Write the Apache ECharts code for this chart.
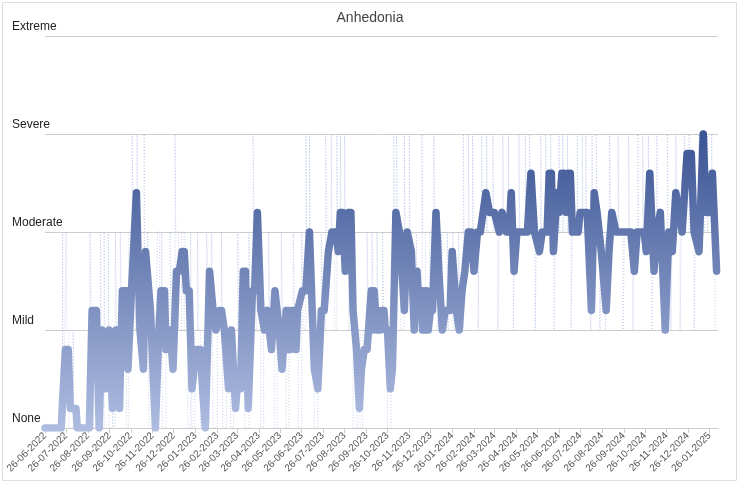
<!DOCTYPE html>
<html>
<head>
<meta charset="utf-8">
<script src="https://cdn.jsdelivr.net/npm/echarts@6/dist/echarts.min.js"></script>
<style>
  html, body { margin: 0; padding: 0; background: #fff; }
  #chart { width: 740px; height: 484px; }
</style>
</head>
<body>
<div id="chart"></div>
<script>
// x positions are days after 26-06-2022 (the first category)
const startDate = '2022-06-26';
const endDate = '2025-02-07';
const levels = ['None', 'Mild', 'Moderate', 'Severe', 'Extreme'];

// thick smoothed line (rows of 10)
const lineDay = [
  0, 23, 26, 29, 33, 36, 44, 46, 63, 67,
  73, 77, 81, 86, 91, 96, 101, 103, 106, 110,
  116, 118, 123, 130, 135, 140, 143, 145, 150, 157,
  162, 165, 167, 170, 172, 174, 178, 182, 187, 191,
  195, 198, 201, 205, 209, 212, 216, 221, 224, 228,
  234, 236, 239, 243, 248, 251, 255, 261, 265, 271,
  275, 278, 282, 285, 289, 295, 298, 302, 307, 312,
  316, 322, 327, 333, 337, 343, 345, 347, 349, 351,
  353, 355, 357, 359, 361, 366, 371, 376, 379, 383,
  388, 393, 397, 403, 408, 414, 417, 420, 423, 427,
  431, 435, 438, 443, 447, 450, 454, 458, 464, 466,
  468, 472, 474, 477, 479, 482, 484, 487, 491, 494,
  499, 504, 506, 511, 515, 521, 525, 529, 532, 535,
  537, 539, 541, 543, 545, 548, 551, 556, 560, 565,
  569, 576, 579, 585, 589, 593, 597, 602, 606, 610,
  615, 619, 623, 627, 632, 639, 646, 650, 656, 660,
  663, 667, 671, 686, 691, 696, 703, 707, 714, 717,
  720, 723, 728, 731, 735, 738, 741, 744, 747, 750,
  758, 761, 771, 777, 781, 785, 788, 791, 798, 802,
  806, 812, 833, 838, 842, 852, 855, 860, 866, 870,
  875, 882, 887, 892, 897, 902, 906, 913, 919, 923,
  930, 936, 940, 944, 949, 955];
const lineValue = [
  0, 0, 0.4, 0.8, 0.8, 0.2, 0.2, 0, 0, 1.2,
  1.2, 0, 1.0, 0.4, 1.0, 0.2, 1.0, 0.6, 0.2, 1.4,
  1.4, 0.6, 1.4, 2.4, 1.0, 0.6, 1.8, 1.8, 1.2, 0,
  1.0, 1.4, 1.0, 1.4, 0.8, 0.8, 1.0, 0.6, 1.6, 1.6,
  1.8, 1.8, 1.4, 1.4, 0.4, 0.6, 0.8, 0.8, 0.4, 0,
  1.6, 1.6, 1.2, 1.0, 1.2, 1.2, 1.0, 0.4, 1.0, 0.2,
  0.6, 0.4, 1.6, 1.6, 0.2, 1.4, 1.4, 2.2, 1.2, 1.0,
  1.2, 0.8, 1.4, 1.0, 0.6, 1.2, 0.8, 1.2, 0.8, 1.2,
  1.0, 1.2, 0.8, 1.2, 1.2, 1.4, 1.4, 2.0, 1.4, 0.6,
  0.4, 1.2, 1.2, 1.8, 2.0, 2.0, 1.8, 2.2, 2.2, 1.6,
  2.2, 2.2, 1.2, 0.8, 0.2, 0.6, 0.8, 0.8, 1.4, 1.0,
  1.4, 1.0, 1.2, 1.0, 1.2, 1.2, 1.0, 1.0, 0.4, 0.6,
  2.2, 2.0, 1.8, 1.2, 2.0, 1.8, 1.0, 1.6, 1.2, 1.4,
  1.0, 1.4, 1.0, 1.4, 1.0, 1.2, 1.2, 2.2, 1.6, 1.0,
  1.2, 1.2, 1.8, 1.2, 1.0, 1.4, 1.6, 2.0, 2.0, 1.6,
  2.0, 2.0, 2.2, 2.4, 2.2, 2.2, 2.0, 2.2, 2.0, 2.0,
  2.4, 1.6, 2.0, 2.0, 2.6, 2.0, 1.8, 2.0, 2.0, 2.6,
  2.6, 1.8, 2.4, 2.2, 2.6, 2.6, 2.2, 2.6, 2.6, 2.0,
  2.0, 2.2, 2.2, 1.2, 2.4, 2.2, 2.0, 1.8, 1.2, 1.8,
  2.2, 2.0, 2.0, 1.6, 2.0, 2.0, 1.8, 2.6, 1.6, 2.0,
  2.2, 1.0, 2.0, 1.8, 2.4, 2.2, 2.0, 2.8, 2.8, 2.0,
  1.8, 3.0, 2.2, 2.2, 2.6, 1.6];

// daily raw answers (dotted), given as the day each new answer starts
const rawDay = [0, 25, 26, 28, 30, 31, 34, 40, 41, 64, 66, 69, 73, 74, 79, 81, 84, 85, 90, 91, 96, 97, 100, 102, 107, 109, 116, 119, 124, 125,
  129, 131, 132, 136, 141, 142, 146, 148, 158, 160, 163, 166, 167, 172, 178, 180, 185, 186, 190, 194, 198, 203, 207, 209, 213, 217, 218, 221, 226, 230,
  232, 237, 239, 245, 251, 253, 258, 264, 268, 274, 276, 284, 290, 292, 296, 297, 301, 307, 311, 318, 320, 326, 330, 336, 338, 343, 347, 353, 355, 360,
  365, 367, 371, 372, 376, 378, 383, 388, 393, 395, 399, 401, 407, 408, 412, 415, 416, 420, 421, 426, 427, 432, 438, 444, 448, 452, 458, 460, 465, 467,
  472, 474, 480, 482, 487, 492, 496, 497, 500, 501, 506, 511, 512, 518, 519, 523, 528, 530, 536, 537, 541, 547, 553, 554, 558, 564, 566, 572, 574, 580,
  582, 588, 590, 595, 596, 602, 603, 608, 609, 616, 617, 621, 622, 628, 629, 637, 638, 644, 646, 651, 652, 659, 660, 666, 668, 674, 675, 683, 684, 689,
  691, 697, 699, 705, 706, 712, 713, 719, 721, 724, 726, 731, 732, 736, 738, 743, 744, 748, 750, 757, 758, 764, 765, 769, 770, 776, 778, 779, 784, 785,
  789, 791, 797, 799, 803, 804, 815, 816, 822, 824, 830, 831, 836, 837, 843, 844, 850, 851, 858, 859, 863, 865, 870, 871, 878, 880, 885, 886, 890, 892,
  897, 898, 903, 905, 909, 911, 916, 918, 923, 925, 930, 932, 936, 938, 942, 943, 948, 949, 953, 956];
const rawValue = [0, 2, 0, 1, 2, 1, 0, 1, 0, 2, 1, 0, 1, 0, 2, 0, 2, 1, 2, 0, 1, 0, 2, 1, 2, 1, 0, 2, 3, 2,
  1, 3, 2, 1, 3, 1, 2, 0, 1, 2, 1, 2, 0, 1, 2, 1, 3, 2, 1, 2, 1, 0, 2, 0, 1, 2, 1, 0, 1, 2,
  1, 2, 0, 1, 2, 0, 1, 0, 1, 2, 1, 0, 2, 1, 3, 2, 1, 0, 1, 2, 1, 0, 1, 2, 1, 0, 1, 2, 1, 0,
  2, 1, 3, 2, 3, 1, 0, 1, 2, 1, 3, 2, 3, 2, 1, 3, 2, 3, 2, 3, 2, 1, 0, 1, 0, 1, 2, 1, 2, 1,
  2, 1, 2, 1, 0, 1, 3, 2, 3, 2, 1, 3, 2, 3, 2, 1, 2, 1, 3, 2, 1, 2, 3, 2, 1, 2, 1, 2, 1, 2,
  1, 2, 1, 3, 2, 3, 2, 3, 2, 1, 2, 3, 2, 3, 2, 3, 2, 1, 2, 3, 2, 3, 2, 1, 2, 3, 2, 3, 2, 3,
  2, 1, 2, 3, 2, 3, 2, 3, 2, 1, 2, 3, 2, 3, 2, 3, 2, 1, 2, 3, 2, 3, 2, 3, 2, 1, 3, 2, 3, 2,
  1, 2, 1, 2, 3, 2, 3, 2, 1, 2, 3, 2, 1, 2, 3, 2, 3, 2, 3, 2, 1, 2, 3, 2, 1, 2, 3, 2, 1, 2,
  3, 2, 1, 2, 3, 2, 3, 2, 1, 2, 3, 2, 3, 2, 3, 2, 3, 2, 1, 1];

// one category per day, labelled dd-mm-yyyy
const categories = [];
for (let d = new Date(startDate + 'T00:00:00Z'); d <= new Date(endDate + 'T00:00:00Z'); d.setUTCDate(d.getUTCDate() + 1)) {
  const dd = String(d.getUTCDate()).padStart(2, '0');
  const mm = String(d.getUTCMonth() + 1).padStart(2, '0');
  categories.push(dd + '-' + mm + '-' + d.getUTCFullYear());
}
const monthly = (i, v) => v.slice(0, 2) === '26';

const chart = echarts.init(document.getElementById('chart'));
chart.setOption({
  animation: false,
  backgroundColor: '#fff',
  title: {
    text: 'Anhedonia',
    left: 'center',
    top: 6,
    textStyle: { fontSize: 14, fontWeight: 'normal', color: '#444', fontFamily: 'Liberation Sans' }
  },
  graphic: [{
    type: 'rect',
    shape: { x: 2.5, y: 2.5, width: 734, height: 478 },
    style: { fill: 'none', stroke: '#ddd', lineWidth: 1 },
    silent: true
  }],
  grid: { left: 45, right: 22, top: 36, bottom: 56 },
  xAxis: {
    type: 'category',
    data: categories,
    boundaryGap: false,
    axisLine: { lineStyle: { color: '#ccc' } },
    axisTick: { interval: monthly, length: 5, lineStyle: { color: '#ccc' } },
    axisLabel: {
      interval: monthly,
      rotate: 45,
      fontSize: 10,
      color: '#555',
      margin: 6,
      fontFamily: 'Liberation Sans'
    },
    splitLine: { show: false }
  },
  yAxis: {
    type: 'value',
    min: 0,
    max: 4,
    interval: 1,
    axisLine: { show: false },
    axisTick: { show: false },
    splitLine: { lineStyle: { color: '#ccc' } },
    axisLabel: {
      formatter: v => levels[v],
      align: 'left',
      verticalAlign: 'bottom',
      margin: 33,
      padding: [0, 0, 3, 0],
      fontSize: 12,
      color: '#222',
      fontFamily: 'Liberation Sans'
    }
  },
  series: [
    {
      name: 'raw',
      type: 'line',
      step: 'end',
      symbol: 'none',
      data: rawDay.map((d, i) => [d, rawValue[i]]),
      lineStyle: { width: 1, type: [1, 2], color: '#b8c5e8', opacity: 0.85 },
      z: 1
    },
    {
      name: 'Anhedonia',
      type: 'line',
      symbol: 'none',
      data: lineDay.map((d, i) => [d, lineValue[i]]),
      lineStyle: {
        width: 7.5,
        cap: 'round',
        join: 'round',
        color: new echarts.graphic.LinearGradient(0, 0, 0, 1, [
          { offset: 0, color: '#3a5393' },
          { offset: 1, color: '#afbde1' }
        ])
      },
      z: 2
    }
  ]
});
</script>
</body>
</html>
